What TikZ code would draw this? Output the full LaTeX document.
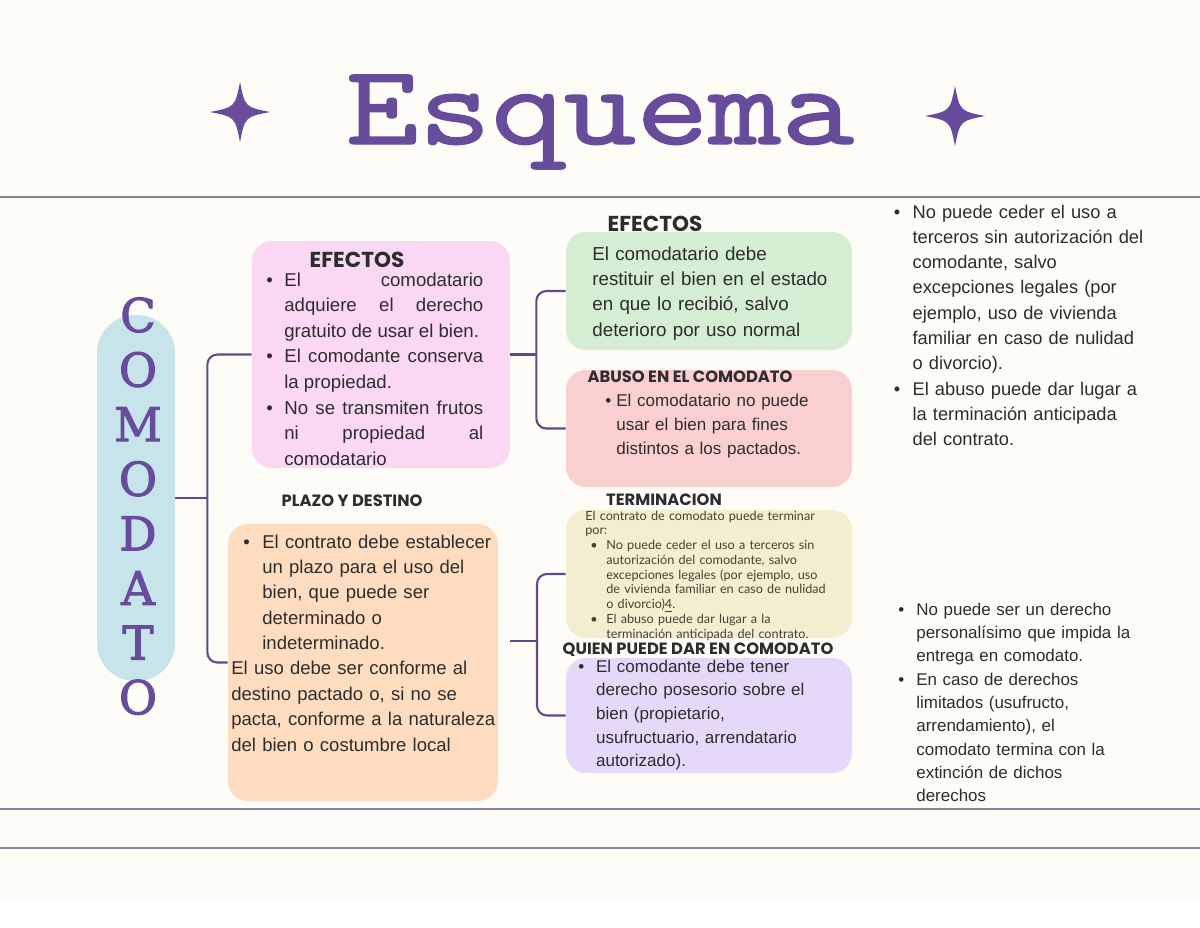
\documentclass[tikz,border=0pt]{standalone}
\usepackage{fontspec}
\setmainfont{Liberation Sans}
\newfontfamily\headfont{Poppins}
\newfontfamily\titlefont{lmmono10-regular.otf}[FakeStretch=1.22,FakeBold=1.2]
\newfontfamily\slabfont{DejaVu Serif}[FakeBold=2.2]
\newfontfamily\notefont{Lato}
\usetikzlibrary{fit,positioning}

\definecolor{paper}{RGB}{254,252,247}
\definecolor{ink}{RGB}{45,45,45}
\definecolor{noteink}{RGB}{72,64,52}
\definecolor{violet}{RGB}{104,76,156}
\definecolor{rulegray}{RGB}{140,132,153}
\definecolor{branch}{RGB}{93,75,138}
\definecolor{pillblue}{RGB}{199,228,234}
\definecolor{pinkfill}{RGB}{250,215,243}
\definecolor{peachfill}{RGB}{254,220,192}
\definecolor{greenfill}{RGB}{213,238,211}
\definecolor{redfill}{RGB}{249,207,208}
\definecolor{yellowfill}{RGB}{242,238,207}
\definecolor{lilacfill}{RGB}{229,216,248}

\newdimen\pxu \pxu=0.569055pt
% bullet item: #1 text indent, #2 bullet offset
\newcommand{\itm}[2]{\hangindent=#1\hangafter=1\noindent\hbox to #1{\kern#2\textbullet\hfil}}
\hbadness=10000
\tolerance=10000

\begin{document}
\begin{tikzpicture}[x=0.02cm, y=-0.02cm]
    % Define styles
    \tikzset{
        card/.style={rounded corners=0.4cm, inner sep=0pt, draw=none},
        pill/.style={rounded corners=0.76cm, inner sep=0pt, fill=pillblue},
        heading/.style={font=\headfont\bfseries\fontsize{9.3}{11}\selectfont, text=ink, inner sep=0pt},
        bigheading/.style={heading, font=\headfont\bfseries\fontsize{12.3}{14}\selectfont},
        body/.style={anchor=base west, inner sep=0pt, text=ink, align=left},
        letter/.style={font=\slabfont\fontsize{26.5}{30}\selectfont, text=violet, inner sep=0pt},
        link/.style={draw=branch, line width=1.2pt, rounded corners=0.2cm},
        sparkle/.style={fill=violet, draw=none},
        rulel/.style={draw=rulegray, line width=0.9pt}
    }
    \useasboundingbox (0,0) rectangle (1200,927);
    \fill[white] (0,0) rectangle (1200,927);
    \fill[paper] (0,0) rectangle (1200,900);

    % Title
    \node[font=\titlefont\fontsize{64.5}{66}\selectfont, text=violet, anchor=base, inner sep=0pt] (title) at (600,144) {Esquema};
    \foreach \cx/\cy in {240/112, 955/116}
        \fill[sparkle] (\cx,\cy-30) .. controls (\cx+5,\cy-5) .. (\cx+30,\cy) .. controls (\cx+5,\cy+5) .. (\cx,\cy+30) .. controls (\cx-5,\cy+5) .. (\cx-30,\cy) .. controls (\cx-5,\cy-5) .. (\cx,\cy-30) -- cycle;

    % Rules
    \draw[rulel] (0,197) -- (1200,197);
    \draw[rulel] (0,809) -- (1200,809);
    \draw[rulel] (0,848) -- (1200,848);

    % Main label
    \node[pill, fit={(97,315) (175,681)}] (pill) {};
    \foreach \ch [count=\i from 0] in {C,O,M,O,D,A,T,O}
        \node[letter] (letter\i) at (138,{315+54.6*\i}) {\ch};

    % Boxes
    \node[card, fill=pinkfill, fit={(252,241) (510,468)}] (efectos) {};
    \node[card, fill=peachfill, fit={(228,524) (498,801)}] (plazo) {};
    \node[card, fill=greenfill, fit={(566,232) (852,350)}] (restituir) {};
    \node[card, fill=redfill, fit={(566,370) (852,487)}] (abuso) {};
    \node[card, fill=yellowfill, fit={(566,510) (852,638)}] (termina) {};
    \node[card, fill=lilacfill, fit={(566,658) (852,773)}] (quien) {};

    % Connectors
    \draw[link] (pill.east) -- ++(32,0) coordinate (hubA);
    \draw[link] (hubA) |- (efectos.west);
    \draw[link] (hubA) |- (plazo.west);
    \draw[link] (efectos.east) -- ++(26,0) coordinate (hubB);
    \draw[link] (hubB) |- (restituir.west);
    \draw[link] (hubB) |- (abuso.west);
    \coordinate (stubC) at (510,641);
    \draw[link] (stubC) -- ++(27,0) coordinate (hubC);
    \draw[link] (hubC) |- (termina.west);
    \draw[link] (hubC) |- (quien.west);

    % Headings
    \node[bigheading] (efectosHead) at (357,260) {EFECTOS};
    \node[heading] (plazoHead) at (352,501) {PLAZO Y DESTINO};
    \node[bigheading] (restituirHead) at (655,224) {EFECTOS};
    \node[heading] (abusoHead) at (690,377) {ABUSO EN EL COMODATO};
    \node[heading] (terminaHead) at (664,500) {TERMINACION};
    \node[heading] (quienHead) at (698,650) {QUIEN PUEDE DAR EN COMODATO};

    % Box texts
    \node[body, align=justify, text width=4.34cm, font=\fontsize{10.6}{14.6}\selectfont] (efectosTxt) at (266,286) {%
        \itm{18\pxu}{0pt}El comodatario\linebreak adquiere el derecho\linebreak gratuito de usar el bien.\par
        \itm{18\pxu}{0pt}El comodante conserva\linebreak la propiedad.\par
        \itm{18\pxu}{0pt}No se transmiten frutos\linebreak ni propiedad al\linebreak comodatario\par};
    \node[body, text width=5.3cm, font=\fontsize{10.55}{14.45}\selectfont] (plazoTxt) at (231,548) {%
        \itm{31\pxu}{12\pxu}El contrato debe establecer\newline un plazo para el uso del\newline bien, que puede ser\newline determinado o\newline indeterminado.\par
        \noindent El uso debe ser conforme al\newline destino pactado o, si no se\newline pacta, conforme a la naturaleza\newline del bien o costumbre local\par};
    \node[body, text width=5.2cm, font=\fontsize{10.7}{14.5}\selectfont] (restituirTxt) at (592,260) {%
        El comodatario debe\newline restituir el bien en el estado\newline en que lo recibió, salvo\newline deterioro por uso normal};
    \node[body, text width=5cm, font=\fontsize{9.7}{13.7}\selectfont] (abusoTxt) at (603,406) {%
        \itm{13\pxu}{2\pxu}El comodatario no puede\newline usar el bien para fines\newline distintos a los pactados.\par};
    \node[body, text width=5.3cm, text=noteink, font=\notefont\fontsize{7.2}{8.4}\selectfont] (terminaTxt) at (585,520) {%
        El contrato de comodato puede terminar\newline por:\par
        \itm{21\pxu}{5\pxu}No puede ceder el uso a terceros sin\newline autorización del comodante, salvo\newline excepciones legales (por ejemplo, uso\newline de vivienda familiar en caso de nulidad\newline o divorcio)\underline{4}.\par
        \itm{21\pxu}{5\pxu}El abuso puede dar lugar a la\newline terminación anticipada del contrato.\par};
    \node[body, text width=5.2cm, font=\fontsize{9.7}{13.5}\selectfont] (quienTxt) at (578,672) {%
        \itm{17.7\pxu}{0pt}El comodante debe tener\newline derecho posesorio sobre el\newline bien (propietario,\newline usufructuario, arrendatario\newline autorizado).\par};

    % Side notes
    \node[body, text width=5.4cm, font=\fontsize{10.4}{14.4}\selectfont] (notaUso) at (893.5,218) {%
        \itm{18.8\pxu}{0pt}No puede ceder el uso a\newline terceros sin autorización del\newline comodante, salvo\newline excepciones legales (por\newline ejemplo, uso de vivienda\newline familiar en caso de nulidad\newline o divorcio).\par
        \itm{18.8\pxu}{0pt}El abuso puede dar lugar a\newline la terminación anticipada\newline del contrato.\par};
    \node[body, text width=5cm, font=\fontsize{9.65}{13.3}\selectfont] (notaDerecho) at (898,615) {%
        \itm{18\pxu}{0pt}No puede ser un derecho\newline personalísimo que impida la\newline entrega en comodato.\par
        \itm{18\pxu}{0pt}En caso de derechos\newline limitados (usufructo,\newline arrendamiento), el\newline comodato termina con la\newline extinción de dichos\newline derechos\par};
\end{tikzpicture}
\end{document}
